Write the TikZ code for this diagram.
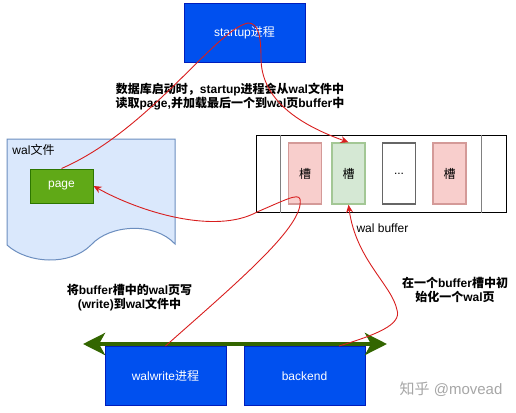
\documentclass[tikz,border=0pt]{standalone}
\usepackage{fontspec}
\setmainfont{Liberation Sans}
\newfontfamily\cjk{Noto Sans CJK SC}
\newcommand{\zh}[1]{{\cjk #1}}
\usetikzlibrary{arrows, arrows.meta, positioning, calc}
\definecolor{procblue}{HTML}{0050EF}
\definecolor{procedge}{HTML}{001DBC}
\definecolor{pagegreen}{HTML}{60A917}
\definecolor{pageedge}{HTML}{2D7600}
\definecolor{busgreen}{HTML}{336600}
\definecolor{docfill}{HTML}{DAE8FC}
\definecolor{docedge}{HTML}{6C8EBF}
\definecolor{slotred}{HTML}{F8CECC}
\definecolor{slotrededge}{HTML}{D49A98}
\definecolor{slotgreen}{HTML}{D5E8D4}
\definecolor{slotgreenedge}{HTML}{A3C795}
\definecolor{linkred}{HTML}{D81E1E}
\tikzset{%
	proc/.style={draw=procedge, fill=procblue, text=white, minimum width=121pt,%
		minimum height=59pt, inner sep=0pt},
	pg/.style={draw=pageedge, fill=pagegreen, text=white, minimum width=63pt,%
		minimum height=34pt, inner sep=0pt},
	slot/.style={minimum width=33pt, minimum height=61pt, inner sep=0pt, line width=1.5pt},
	slotr/.style={slot, draw=slotrededge, fill=slotred},
	slotg/.style={slot, draw=slotgreenedge, fill=slotgreen},
	slotw/.style={slot, draw=black!60, fill=white},
	divider/.style={draw=black!50, line width=1.8pt},
	note/.style={align=center, font=\bfseries\fontsize{12}{14}\selectfont},
	conn/.style={->, >={Stealth[length=8pt,width=7pt]}, draw=linkred, line width=0.9pt},
	bus/.style={{Stealth[length=22pt,width=22pt,inset=6pt]}-{Stealth[length=22pt,width=22pt,inset=6pt]},%
		draw=busgreen, line width=4.5pt}
}
\begin{document}
\begin{tikzpicture}[x=1pt, y=-1pt, line width=1pt, font=\fontsize{12}{14}\selectfont]
	\useasboundingbox (0,0) rectangle (516,412);
	% wal file (document shape)
	\draw[docedge, fill=docfill] (7,139) -- (175,139) -- (175,244)
		.. controls (155,222) and (110,224) .. (91,245)
		.. controls (70,266) and (28,264) .. (7,245) -- cycle;
	\node[anchor=west, inner sep=0pt] (wallbl) at (12,150) {wal\zh{文件}};
	\node[pg] (page) at (61.5,186) {page};

	\node[proc] (startup) at (244.5,33) {startup\zh{进程}};

	% wal buffer
	\node[draw, minimum width=250pt, minimum height=77pt, inner sep=0pt] (buf) at (381,173.5) {};
	\draw[divider] ($(buf.north west)+(25,0)$) -- ($(buf.south west)+(25,0)$);
	\draw[divider] ($(buf.north east)+(-25,0)$) -- ($(buf.south east)+(-25,0)$);
	\node[slotr] (slota) at (305,173.5) {\zh{槽}};
	\node[slotg, right=9pt of slota] (slotb) {\zh{槽}};
	\node[slotw, right=16pt of slotb] (slotc) {...};
	\node[slotr, right=16pt of slotc] (slotd) {\zh{槽}};
	\node[anchor=west, inner sep=0pt] (buflbl) at (356,228) {wal buffer};

	\node[proc] (walwrite) at (165.5,376) {walwrite\zh{进程}};
	\node[proc, right=17pt of walwrite] (backend) {backend};

	\coordinate (busl) at (83,344);
	\coordinate (busr) at (387,344);
	\draw[bus] (busl) -- (busr);

	% notes
	\node[note] (n1) at (230,97) {\zh{数据库启动时，}startup\zh{进程会从}wal\zh{文件中}\\
		\zh{读取}page,\zh{并加载最后一个到}wal\zh{页}buffer\zh{中}};
	\node[note] (n2) at (129.5,298) {\zh{将}buffer\zh{槽中的}wal\zh{页写}\\(write)\zh{到}wal\zh{文件中}};
	\node[note] (n3) at (455,290) {\zh{在一个}buffer\zh{槽中初}\\\zh{始化一个}wal\zh{页}};
	\node[text=black!35, font=\fontsize{15}{17}\selectfont] (mark) at (451,389) {\zh{知乎} @movead};

	% red connectors
	\draw[conn] (page.north) .. controls (150,130) and (215,30) .. (248,23)
		.. controls (258,23) and (261,35) .. (261,58)
		.. controls (261,100) and (300,125) .. (slotb.north);
	\draw[conn] (walwrite.north) .. controls (240,280) and (305,225) .. (300,199)
		.. controls (298,193) and (285,200) .. (257,212)
		.. controls (215,235) and (140,212) .. (page.east);
	\draw[conn] (backend.41) .. controls (375,335) and (402,325) .. (397,310)
		.. controls (392,285) and (356,260) .. (slotb.south);
\end{tikzpicture}
\end{document}
